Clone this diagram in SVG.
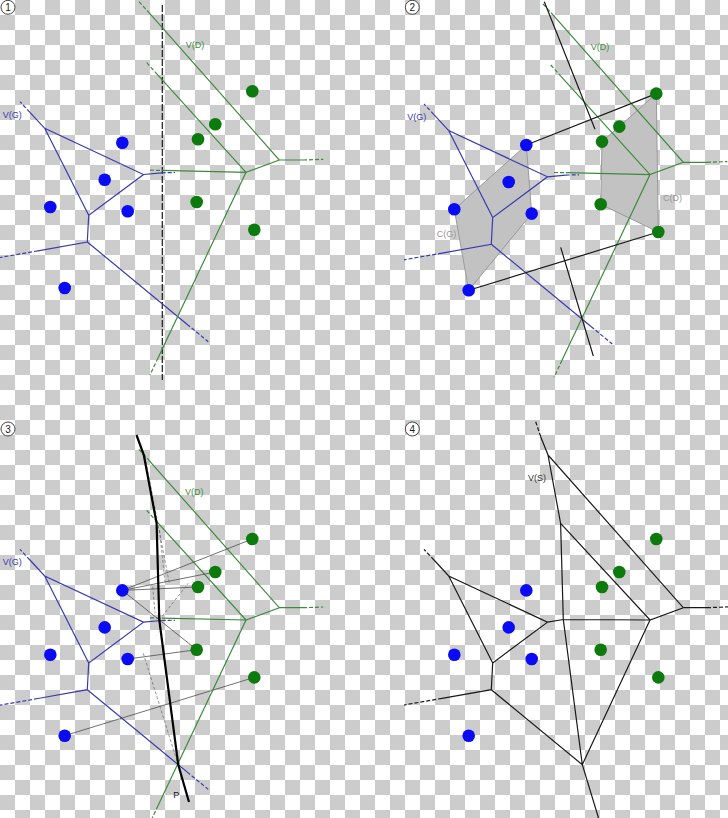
<svg xmlns="http://www.w3.org/2000/svg" width="728" height="818" viewBox="0 0 728 818">
<style>
.bl{stroke:#3a3ab4;stroke-width:1.2;fill:none}
.gl{stroke:#3d8c3d;stroke-width:1.2;fill:none}
.kl{stroke:#1a1a1a;stroke-width:1.2;fill:none}
.d{stroke-dasharray:4,2}
.bp{fill:#0a0af5}
.gp{fill:#0c7a0c}
.lbl{font-family:"Liberation Sans",Arial,sans-serif;font-size:9px}
.num{font-family:"Liberation Sans",Arial,sans-serif;font-size:10px;fill:#222;text-anchor:middle}
.ring{fill:#fff;stroke:#444;stroke-width:1}
.thin{stroke:#4d4d4d;stroke-width:0.8;fill:none}
.dd{stroke:#666;stroke-width:0.7;fill:none;stroke-dasharray:3,2}
</style>
<defs>
<pattern id="chk" width="30" height="30" patternUnits="userSpaceOnUse">
<rect width="30" height="30" fill="#fff"/>
<rect x="15" y="0" width="15" height="15" fill="#cccccc"/>
<rect x="0" y="15" width="15" height="15" fill="#cccccc"/>
</pattern>
<g id="vg">
<path class="bl" d="M29.9,112.3 L44.7,128.3 L143.5,174.5 L88.7,215.3 L87.3,242 L38,250.8 M44.7,128.3 L88.7,215.3 M143.5,174.5 L161.7,172.8 M87.3,242 L187,324.2"/>
<path class="bl d" d="M29.9,112.3 L20,101.7 M161.7,172.8 L175,172.5 M38,250.8 L0,257.5 M187,324.2 L208.3,341.7"/>
</g>
<g id="vd">
<path class="gl" d="M147,10.4 L279.3,160 L246,172.3 L157,74.1 M162,170.4 L246,172.3 L158,358 M279.3,160 L303,160"/>
<path class="gl d" d="M139,1.7 L147,10.4 M146.7,62.7 L157,74.1 M150,170.2 L162,170.4 M303,160 L323.3,159.3 M158,358 L150,375"/>
</g>
<g id="ptsG">
<circle class="bp" cx="122.3" cy="142.7" r="6.3"/>
<circle class="bp" cx="104.7" cy="179.7" r="6.3"/>
<circle class="bp" cx="50.3" cy="207" r="6.3"/>
<circle class="bp" cx="127.7" cy="211.3" r="6.3"/>
<circle class="bp" cx="64.7" cy="288" r="6.3"/>
</g>
<g id="ptsD">
<circle class="gp" cx="252.3" cy="91.3" r="6.3"/>
<circle class="gp" cx="215.3" cy="124.3" r="6.3"/>
<circle class="gp" cx="198" cy="139.3" r="6.3"/>
<circle class="gp" cx="196.7" cy="202" r="6.3"/>
<circle class="gp" cx="254.3" cy="229.7" r="6.3"/>
</g>
</defs>
<rect width="728" height="818" fill="url(#chk)"/>

<g id="panel1">
<g id="p1-num"><circle class="ring" cx="8" cy="7.3" r="7"/><text class="num" x="8" y="10.8">1</text></g>
<g id="p1-split"><path class="kl" d="M162.3,5 L162.3,380" stroke-dasharray="7,2"/></g>
<g id="p1-VG"><use href="#vg"/><text class="lbl" x="2.7" y="117.5" fill="#3a3ab4">V(G)</text></g>
<g id="p1-VD"><use href="#vd"/><text class="lbl" x="185.7" y="47.5" fill="#3d8c3d">V(D)</text></g>
<g id="p1-G"><use href="#ptsG"/></g>
<g id="p1-D"><use href="#ptsD"/></g>
</g>

<g id="panel2">
<g id="p2-num"><circle class="ring" cx="412.3" cy="7.3" r="7"/><text class="num" x="412.3" y="10.8">2</text></g>
<g id="p2-CG"><polygon points="526.3,145 531.7,213.6 468.7,290.3 454.3,209.3" fill="#c2c2c2" stroke="#9a9a9a" stroke-width="1"/><text class="lbl" x="436.7" y="236.5" fill="#999">C(G)</text></g>
<g id="p2-CD"><polygon points="656.3,93.6 658.3,232 600.7,204.3 602,141.6 619.3,126.6" fill="#c2c2c2" stroke="#9a9a9a" stroke-width="1"/><text class="lbl" x="663" y="200.5" fill="#999">C(D)</text></g>
<g id="p2-VG" transform="translate(404,2.3)"><use href="#vg"/></g>
<text class="lbl" x="407.3" y="119.5" fill="#3a3ab4">V(G)</text>
<g id="p2-VD" transform="translate(404,2.3)"><use href="#vd"/></g>
<text class="lbl" x="590.7" y="50" fill="#3d8c3d">V(D)</text>
<g id="p2-bridges">
<path class="kl" d="M526.3,145 L656.3,93.6 M468.7,290.3 L658.3,232"/>
<path class="kl" d="M544.3,1.7 L595,129.3 M560.7,247.3 L593.3,356"/>
</g>
<g id="p2-G" transform="translate(404,2.3)"><use href="#ptsG"/></g>
<g id="p2-D" transform="translate(404,2.3)"><use href="#ptsD"/></g>
</g>

<g id="panel3">
<g id="p3-num"><circle class="ring" cx="8" cy="429" r="7"/><text class="num" x="8" y="432.5">3</text></g>
<g id="p3-VG" transform="translate(0,447.7)"><use href="#vg"/></g>
<text class="lbl" x="2.7" y="565" fill="#3a3ab4">V(G)</text>
<g id="p3-VD" transform="translate(0,447.7)"><use href="#vd"/></g>
<text class="lbl" x="185" y="495" fill="#3d8c3d">V(D)</text>
<g id="p3-links">
<path class="thin" d="M122.3,590.4 L252.3,539 M122.3,590.4 L215.3,572 M122.3,590.4 L198,587 M127.7,659 L196.7,649.7 M64.7,735.7 L254.3,677.4"/>
<path class="thin" stroke="#808080" d="M122.3,590.4 L196.7,649.7"/>
<path class="dd" d="M145,456.7 L169.3,583.3 M159.5,530 L165,582 M159.3,620 L188.3,583.3 M143.3,653.3 L177.7,763.3 M152.7,586.7 L155,613.3"/>
</g>
<g id="p3-P">
<polyline points="136.5,435 143.8,455 156.6,523.3 159.3,620 178.3,765 189,802" fill="none" stroke="#000" stroke-width="2.2" stroke-linejoin="round"/>
<text class="lbl" x="173.2" y="797.5" fill="#111">P</text>
</g>
<g id="p3-G" transform="translate(0,447.7)"><use href="#ptsG"/></g>
<g id="p3-D" transform="translate(0,447.7)"><use href="#ptsD"/></g>
</g>

<g id="panel4">
<g id="p4-num"><circle class="ring" cx="412.3" cy="429" r="7"/><text class="num" x="412.3" y="432.5">4</text></g>
<g id="p4-VS">
<path class="kl" d="M434,560 L448.7,576 L547.5,622.2 L492.7,663 L491.3,689.7 L442,698.3 M448.7,576 L492.7,663 M547.5,622.2 L563.3,619.5 M491.3,689.7 L582.3,764.7 L598.5,818 M582.3,764.7 L563.3,619.5 L560.6,523.3 L548,455 L540.7,436.7 M548,455 L683.3,607.7 L650,620 L560.6,523.3 M650,620 L563.3,619.5 M650,620 L582.3,764.7 M683.3,607.7 L707,607.7"/>
<path class="kl d" d="M434,560 L424,549.4 M442,698.3 L404,705 M540.7,436.7 L535.7,421.7 M707,607.7 L728,606.9"/>
<text class="lbl" x="528" y="481" fill="#333">V(S)</text>
</g>
<g id="p4-G" transform="translate(404,447.7)"><use href="#ptsG"/></g>
<g id="p4-D" transform="translate(404,447.7)"><use href="#ptsD"/></g>
</g>
</svg>
